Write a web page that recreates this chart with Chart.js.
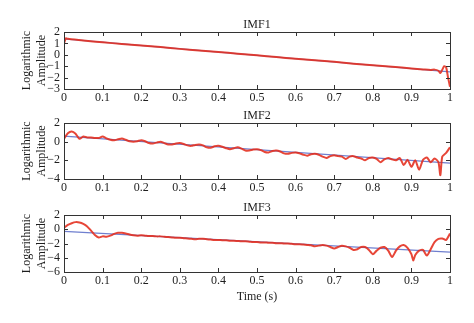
<!DOCTYPE html>
<html>
<head>
<meta charset="utf-8">
<script src="https://cdn.jsdelivr.net/npm/chart.js@4.4.1/dist/chart.umd.min.js"></script>
<style>
  body { margin: 0; background: #fff; width: 474px; height: 323px; overflow: hidden; position: relative; }
  canvas { position: absolute; left: 0; }
</style>
</head>
<body>
<canvas id="imf1" width="474" height="105" style="top:0px"></canvas>
<canvas id="imf2" width="474" height="90" style="top:105px"></canvas>
<canvas id="imf3" width="474" height="128" style="top:195px"></canvas>
<script>
// x axis ticks (shared)
var timeTicks = [0, 0.1, 0.2, 0.3, 0.4, 0.5, 0.6, 0.7, 0.8, 0.9, 1];

// IMF1
var imf1Time = [0, 0.005, 0.01, 0.05, 0.1, 0.15, 0.2, 0.25, 0.3, 0.35, 0.4, 0.45, 0.5, 0.55, 0.6, 0.65, 0.7, 0.75, 0.8, 0.85, 0.9, 0.93, 0.95, 0.96, 0.97, 0.975, 0.98, 0.985, 0.99, 0.995, 1];
var imf1Amp = [1.0, 1.45, 1.4, 1.25, 1.1, 0.95, 0.82, 0.68, 0.52, 0.38, 0.25, 0.1, -0.05, -0.2, -0.35, -0.48, -0.62, -0.78, -0.92, -1.05, -1.2, -1.28, -1.33, -1.3, -1.4, -1.6, -1.3, -1.0, -1.1, -2.0, -2.8];
var imf1FitTime = [0, 1];
var imf1Fit = [1.4, -1.5];
var imf1YTicks = [-3, -2, -1, 0, 1, 2];

// IMF2
var imf2Time = [0, 0.01, 0.02, 0.03, 0.04, 0.05, 0.06, 0.07, 0.08, 0.09, 0.1, 0.11, 0.12, 0.13, 0.14, 0.15, 0.16, 0.17, 0.18, 0.19, 0.2, 0.21, 0.22, 0.23, 0.24, 0.25, 0.26, 0.27, 0.28, 0.29, 0.3, 0.31, 0.32, 0.33, 0.34, 0.35, 0.36, 0.37, 0.38, 0.39, 0.4, 0.41, 0.42, 0.43, 0.44, 0.45, 0.46, 0.47, 0.48, 0.49, 0.5, 0.51, 0.52, 0.53, 0.54, 0.55, 0.56, 0.57, 0.58, 0.59, 0.6, 0.61, 0.62, 0.63, 0.64, 0.65, 0.66, 0.67, 0.68, 0.69, 0.7, 0.71, 0.72, 0.73, 0.74, 0.75, 0.76, 0.77, 0.78, 0.79, 0.8, 0.81, 0.82, 0.83, 0.84, 0.85, 0.86, 0.87, 0.88, 0.89, 0.9, 0.91, 0.92, 0.93, 0.94, 0.95, 0.96, 0.97, 0.975, 0.98, 0.99, 1];
var imf2Amp = [0.3, 0.9, 1.1, 0.85, 0.3, 0.55, 0.45, 0.45, 0.4, 0.4, 0.55, 0.35, 0.2, 0.15, 0.25, 0.35, 0.2, 0.05, 0.0, 0.05, 0.15, 0.05, -0.15, -0.2, -0.1, 0.0, -0.15, -0.3, -0.3, -0.2, -0.15, -0.25, -0.4, -0.45, -0.35, -0.3, -0.4, -0.6, -0.65, -0.5, -0.45, -0.55, -0.7, -0.8, -0.7, -0.6, -0.75, -0.95, -0.95, -0.85, -0.8, -0.9, -1.1, -1.15, -1.0, -0.95, -1.05, -1.25, -1.3, -1.2, -1.15, -1.25, -1.4, -1.5, -1.35, -1.3, -1.4, -1.6, -1.75, -1.55, -1.45, -1.55, -1.6, -1.85, -1.6, -1.55, -1.7, -1.8, -2.0, -1.75, -1.7, -1.85, -2.2, -1.9, -1.75, -1.9, -2.0, -1.75, -2.5, -1.95, -2.7, -2.0, -3.0, -1.95, -1.7, -2.2, -1.8, -2.2, -3.6, -1.6, -1.2, -0.6];
var imf2FitTime = [0, 1];
var imf2Fit = [0.6, -2.3];
var imf2YTicks = [-4, -2, 0, 2];

// IMF3
var imf3Time = [0, 0.01, 0.02, 0.03, 0.04, 0.05, 0.06, 0.07, 0.08, 0.09, 0.1, 0.11, 0.12, 0.13, 0.14, 0.15, 0.16, 0.17, 0.18, 0.19, 0.2, 0.21, 0.22, 0.23, 0.24, 0.25, 0.26, 0.27, 0.28, 0.29, 0.3, 0.31, 0.32, 0.33, 0.34, 0.35, 0.36, 0.37, 0.38, 0.39, 0.4, 0.41, 0.42, 0.43, 0.44, 0.45, 0.46, 0.47, 0.48, 0.49, 0.5, 0.51, 0.52, 0.53, 0.54, 0.55, 0.56, 0.57, 0.58, 0.59, 0.6, 0.61, 0.62, 0.63, 0.64, 0.65, 0.66, 0.67, 0.68, 0.69, 0.7, 0.71, 0.72, 0.73, 0.74, 0.75, 0.76, 0.77, 0.78, 0.79, 0.8, 0.81, 0.82, 0.83, 0.84, 0.85, 0.86, 0.87, 0.88, 0.89, 0.9, 0.905, 0.91, 0.92, 0.93, 0.94, 0.95, 0.96, 0.97, 0.98, 0.99, 1];
var imf3Amp = [0.2, 0.6, 0.85, 1.0, 0.95, 0.75, 0.4, -0.2, -0.8, -1.15, -1.0, -1.05, -0.9, -0.65, -0.5, -0.5, -0.6, -0.75, -0.85, -0.9, -0.85, -0.9, -0.95, -0.95, -1.0, -1.0, -1.05, -1.1, -1.15, -1.2, -1.2, -1.25, -1.3, -1.35, -1.4, -1.35, -1.35, -1.4, -1.45, -1.5, -1.5, -1.55, -1.55, -1.6, -1.6, -1.65, -1.7, -1.7, -1.75, -1.8, -1.8, -1.85, -1.85, -1.9, -1.9, -1.95, -1.95, -2.0, -2.0, -2.05, -2.1, -2.1, -2.15, -2.2, -2.25, -2.4, -2.3, -2.2, -2.3, -2.5, -2.7, -2.5, -2.3, -2.4, -2.6, -2.9, -2.8, -2.5, -2.5, -2.9, -3.5, -3.0, -2.6, -2.5, -3.0, -3.9, -3.0, -2.4, -2.2, -2.6, -3.5, -4.4, -3.6, -3.0, -2.9, -3.7, -2.8, -1.8, -1.35, -1.3, -1.5, -0.6];
var imf3FitTime = [0, 1];
var imf3Fit = [-0.3, -3.2];
var imf3YTicks = [-6, -4, -2, 0, 2];

var serif = "'Liberation Serif', 'DejaVu Serif', serif";
var inkColor = '#1e1e1e';
var fontSize = 12;

function pairs(xs, ys) {
    return xs.map(function (x, i) { return { x: x, y: ys[i] }; });
}

function fmt(v) {
    var s = String(Math.round(v * 10) / 10);
    return s.replace('-', '\u2212');
}

// box round the plot area, inward ticks on all four sides, panel title
var framePlugin = {
    id: 'frame',
    afterDraw: function (chart, args, opts) {
        var ctx = chart.ctx, a = chart.chartArea;
        var xs = chart.scales.x, ys = chart.scales.y;
        ctx.save();
        ctx.strokeStyle = '#333';
        ctx.lineWidth = 1;
        ctx.strokeRect(Math.round(a.left) + 0.5, Math.round(a.top) + 0.5, Math.round(a.right - a.left), Math.round(a.bottom - a.top));
        ctx.beginPath();
        xs.ticks.forEach(function (t) {
            var px = Math.round(xs.getPixelForValue(t.value)) + 0.5;
            ctx.moveTo(px, a.bottom); ctx.lineTo(px, a.bottom - 4);
            ctx.moveTo(px, a.top); ctx.lineTo(px, a.top + 4);
        });
        ys.ticks.forEach(function (t) {
            var py = Math.round(ys.getPixelForValue(t.value)) + 0.5;
            ctx.moveTo(a.left, py); ctx.lineTo(a.left + 4, py);
            ctx.moveTo(a.right, py); ctx.lineTo(a.right - 4, py);
        });
        ctx.stroke();
        ctx.fillStyle = inkColor;
        ctx.font = fontSize + 'px ' + serif;
        ctx.textAlign = 'center';
        ctx.textBaseline = 'middle';
        ctx.fillText(opts.text, (a.left + a.right) / 2, a.top - 7);
        ctx.restore();
    }
};

function makePanel(id, title, time, amp, fitTime, fit, yTicks, padTop, axisH, xTitle) {
    var ctx = document.getElementById(id);
    return new Chart(ctx, {
        type: 'line',
        data: {
            datasets: [
                {
                    label: title,
                    data: pairs(time, amp),
                    borderColor: 'rgba(228, 44, 28, 0.88)',
                    borderWidth: 2,
                    pointRadius: 0,
                    tension: 0.25,
                    fill: false
                },
                {
                    label: 'fit',
                    data: pairs(fitTime, fit),
                    borderColor: '#6f7fcf',
                    borderWidth: 1.2,
                    pointRadius: 0,
                    fill: false
                }
            ]
        },
        options: {
            responsive: false,
            animation: false,
            devicePixelRatio: 1,
            layout: { padding: { top: padTop, right: 24, bottom: 0, left: 0 } },
            plugins: {
                legend: { display: false },
                tooltip: { enabled: false },
                frame: { text: title }
            },
            scales: {
                x: {
                    type: 'linear',
                    min: 0,
                    max: 1,
                    grid: { display: false, drawTicks: false },
                    border: { display: false },
                    afterBuildTicks: function (s) { s.ticks = timeTicks.map(function (v) { return { value: v }; }); },
                    afterFit: function (s) { s.height = axisH; },
                    ticks: {
                        padding: 2,
                        maxRotation: 0,
                        autoSkip: false,
                        color: inkColor,
                        font: { family: serif, size: fontSize },
                        callback: function (v) { return fmt(v); }
                    },
                    title: {
                        display: !!xTitle,
                        text: xTitle || '',
                        color: inkColor,
                        font: { family: serif, size: fontSize },
                        padding: { top: 0, bottom: 19 }
                    }
                },
                y: {
                    min: yTicks[0],
                    max: yTicks[yTicks.length - 1],
                    grid: { display: false, drawTicks: false },
                    border: { display: false },
                    afterBuildTicks: function (s) { s.ticks = yTicks.map(function (v) { return { value: v }; }); },
                    afterFit: function (s) { s.width = 64; },
                    ticks: {
                        padding: 4,
                        autoSkip: false,
                        color: inkColor,
                        font: { family: serif, size: fontSize },
                        callback: function (v) { return fmt(v); }
                    },
                    title: {
                        display: true,
                        text: ['Logarithmic', 'Amplitude'],
                        color: inkColor,
                        font: { family: serif, size: fontSize },
                        padding: { top: 20, bottom: 0 }
                    }
                }
            }
        },
        plugins: [framePlugin]
    });
}

makePanel('imf1', 'IMF1', imf1Time, imf1Amp, imf1FitTime, imf1Fit, imf1YTicks, 32, 16, null);
makePanel('imf2', 'IMF2', imf2Time, imf2Amp, imf2FitTime, imf2Fit, imf2YTicks, 18, 16, null);
makePanel('imf3', 'IMF3', imf3Time, imf3Amp, imf3FitTime, imf3Fit, imf3YTicks, 20, 51, 'Time (s)');
</script>
</body>
</html>
